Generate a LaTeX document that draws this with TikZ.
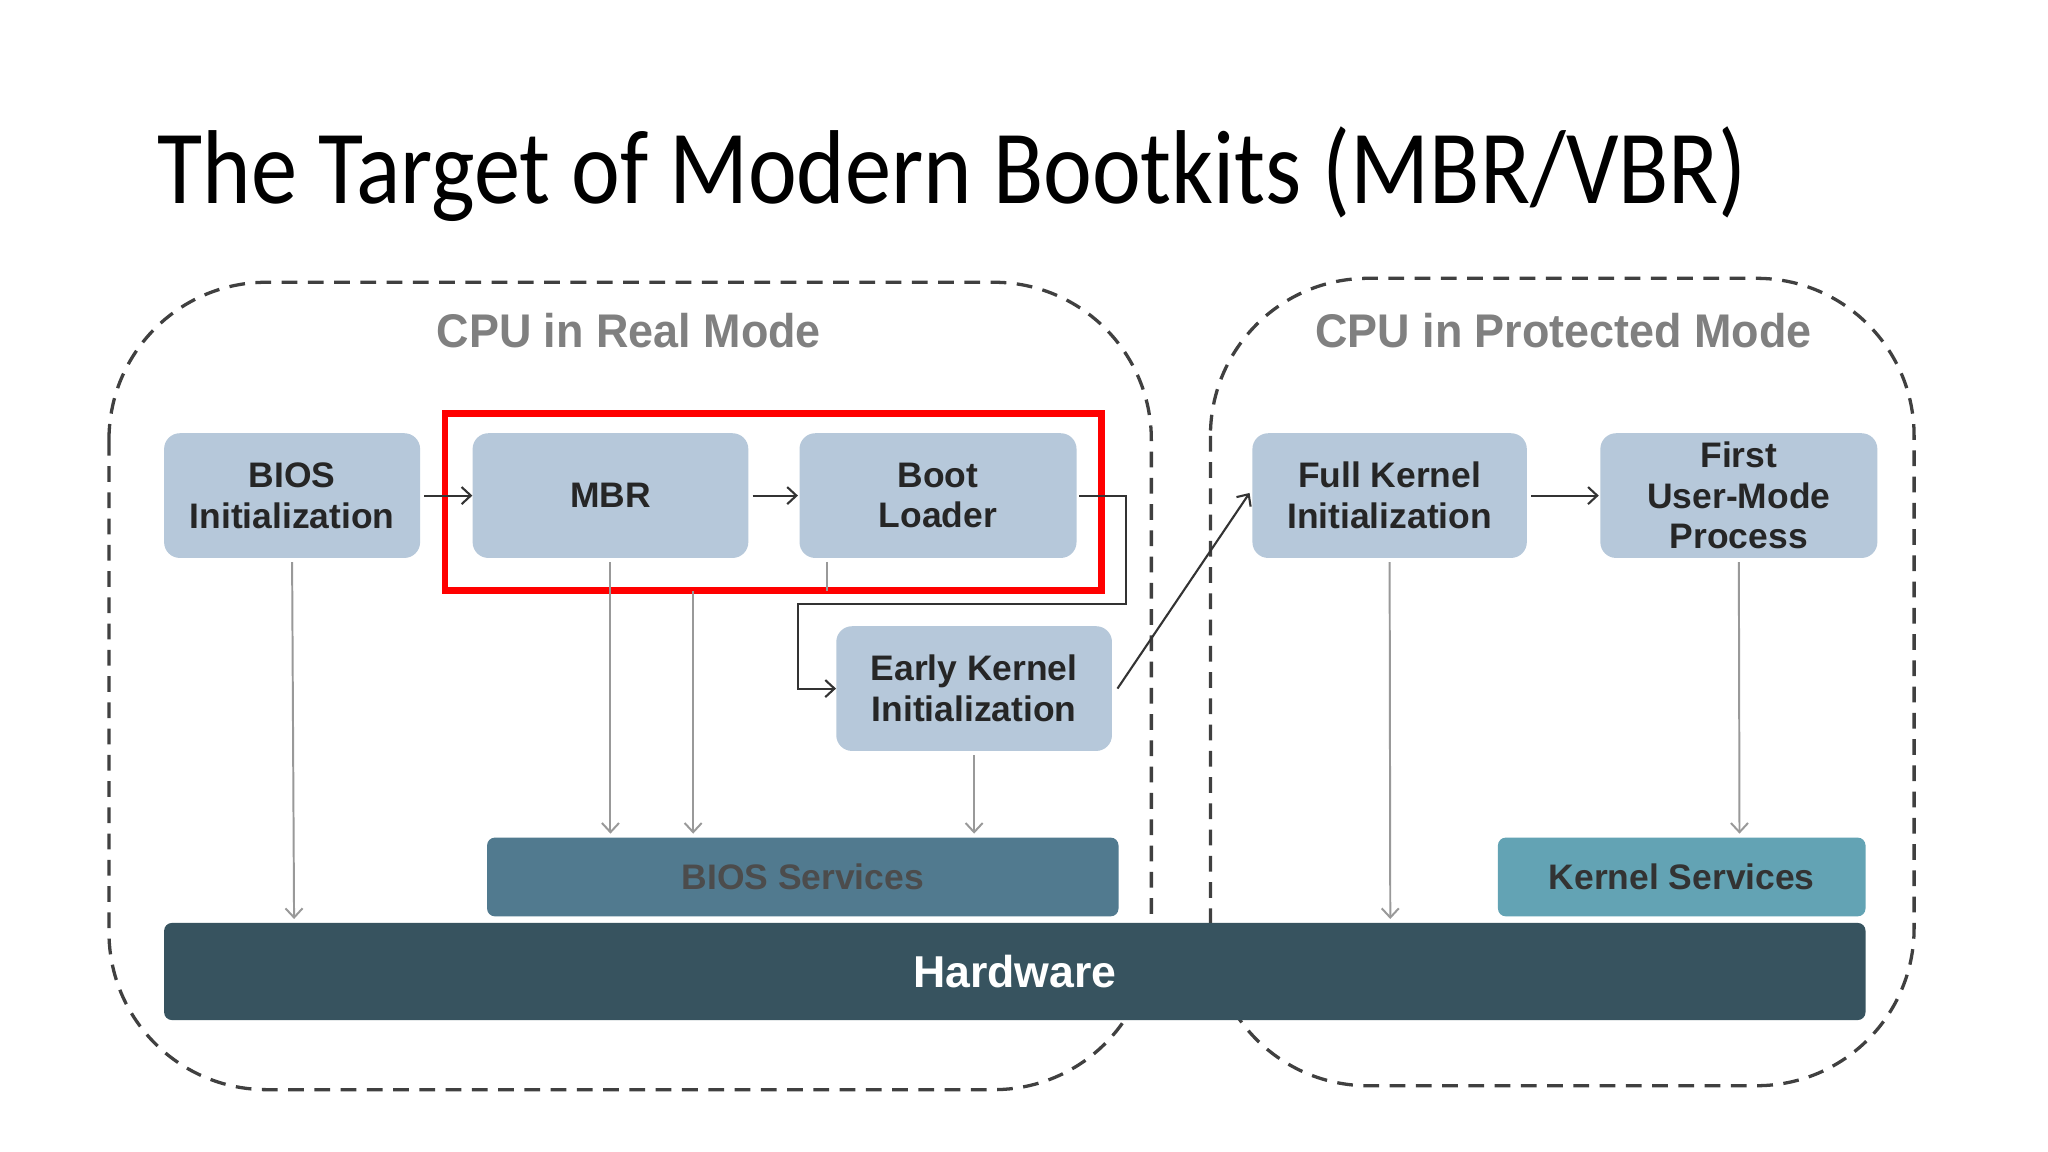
\documentclass[tikz,border=0pt]{standalone}
\usepackage{fontspec}
\setmainfont{Liberation Sans}
\newfontfamily\titlefont{Carlito}
\usetikzlibrary{arrows.meta}
\definecolor{lb}{HTML}{B6C8DA}
\definecolor{bs}{HTML}{517A8F}
\definecolor{ks}{HTML}{63A3B4}
\definecolor{hw}{HTML}{37535F}
\begin{document}
\begin{tikzpicture}[x=1pt,y=-1pt,
  box/.style={fill=lb,rounded corners=12pt,align=center,font=\fontsize{27}{31}\selectfont\bfseries,text=black!85},
  bar/.style={rounded corners=6pt,align=center},
  dk/.style={draw=black!80,line width=1.6pt,-{Straight Barb[length=7pt,width=13pt]}},
  gr/.style={draw=black!40,line width=1.5pt,-{Straight Barb[length=7pt,width=13pt]}},
  region/.style={draw=black!75,line width=2.5pt,dash pattern=on 12pt off 8pt,rounded corners=120pt},
  hdr/.style={font=\fontsize{36}{40}\selectfont\bfseries,text=black!50}]
\useasboundingbox (0,0) rectangle (1560,877.5);
\fill[white] (0,0) rectangle (1560,877.5);
\node[anchor=base west,inner sep=0,xscale=0.88,font=\titlefont\fontsize{80}{90}\selectfont] (title) at (120,155) {The Target of Modern Bootkits (MBR/VBR)};
\draw[region] (83,215) rectangle (877,830);
\draw[region] (922,212) rectangle (1458,827);
\node[hdr,xscale=0.95] (h1) at (479,252) {CPU in Real Mode};
\node[hdr,xscale=0.95] (h2) at (1191,252) {CPU in Protected Mode};
% bars
\node[bar,fill=hw,minimum width=1296pt,minimum height=74pt,font=\fontsize{34}{38}\selectfont\bfseries,text=white] (hw) at (773,740) {Hardware};
\node[bar,fill=bs,minimum width=481pt,minimum height=60pt,font=\fontsize{27}{30}\selectfont\bfseries,text=black!70] (bs) at (611.5,668) {BIOS Services};
\node[bar,fill=ks,minimum width=280pt,minimum height=60pt,font=\fontsize{27}{30}\selectfont\bfseries,text=black!80] (ks) at (1281,668) {Kernel Services};
% boxes
\node[box,minimum width=195pt,minimum height=95pt] (bios) at (222.5,377.5) {BIOS\\Initialization};
\node[box,minimum width=210pt,minimum height=95pt] (mbr) at (465,377.5) {MBR};
\node[box,minimum width=211pt,minimum height=95pt] (bl) at (714.5,377.5) {Boot\\Loader};
\node[box,minimum width=210pt,minimum height=95pt] (ek) at (742,524.5) {Early Kernel\\Initialization};
\node[box,minimum width=209pt,minimum height=95pt] (fk) at (1058.5,377.5) {Full Kernel\\Initialization};
\node[box,minimum width=211pt,minimum height=95pt] (fu) at (1324.5,377.5) {First\\User-Mode\\Process};
% red box
\draw[red,line width=5pt] (339,315) rectangle (839,450);
\coordinate (rb) at (528,450);
\coordinate (rb2) at (630,450);
% dark arrows
\draw[dk] (bios.east) ++(3,0) -- (mbr.west);
\draw[dk] (mbr.east) ++(3,0) -- ([xshift=-1pt]bl.west);
\draw[dk] ([xshift=2pt]bl.east) -- (858,377.5) -- (858,460) -- (608,460) -- (608,524.5) -- (ek.west);
\draw[dk] ([xshift=4pt]ek.east) -- ([xshift=-2pt,yshift=2pt]fk.west);
\draw[dk] (fk.east) ++(3,0) -- ([xshift=-1pt]fu.west);
% gray arrows
\draw[gr] ([yshift=-3pt]bios.south) -- (224,700);
\draw[gr] ([yshift=-3pt]mbr.south) -- (465,635);
\draw[gr] (rb) -- (528,635);
\draw[draw=black!40,line width=1.5pt] (630,428) -- (rb2);
\draw[gr] ([yshift=-3pt]ek.south) -- (742,635);
\draw[gr] ([yshift=-3pt]fk.south) -- (1059,700);
\draw[gr] ([yshift=-3pt]fu.south) -- (1325,635);
\end{tikzpicture}
\end{document}
